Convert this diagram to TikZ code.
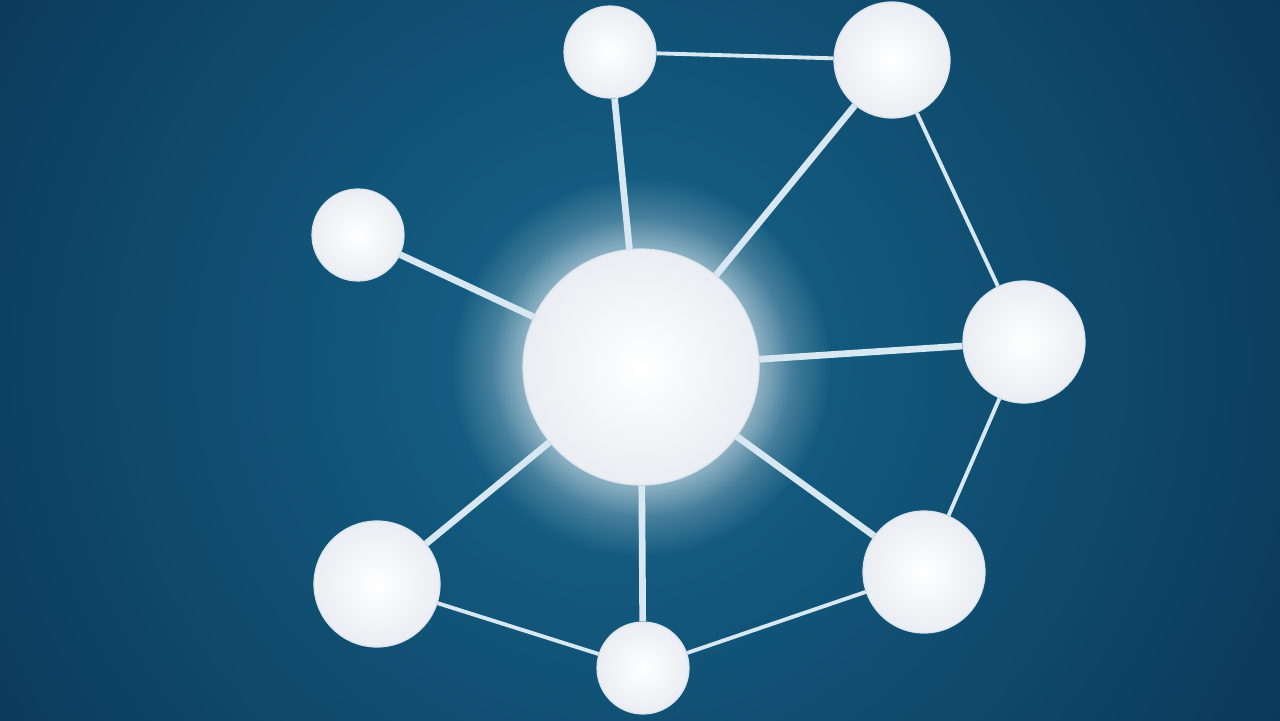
\documentclass[tikz,border=0pt]{standalone}
\usetikzlibrary{fadings}
\definecolor{bgin}{RGB}{22,102,140}
\definecolor{bgout}{RGB}{10,54,86}
\definecolor{ballrim}{RGB}{218,228,238}
\definecolor{ballout}{RGB}{234,237,242}
\definecolor{linkcol}{RGB}{216,232,242}
\tikzfading[name=glowfade, inner color=transparent!0, outer color=transparent!100]
\tikzset{
  ball/.style={circle, draw=ballrim, line width=0.7pt, inner color=white,
    outer color=ballout, minimum size=#1, inner sep=0pt},
  spoke/.style={draw=linkcol, line width=3.8pt},
  rim/.style={draw=linkcol, line width=2.2pt}
}
\begin{document}
\begin{tikzpicture}[x=0.02cm, y=-0.02cm]
      \useasboundingbox (0,0) rectangle (1280,720);
      \clip (0,0) rectangle (1280,720);
      \shade[inner color=bgin, outer color=bgout] (620,360) circle (800);
      % glow round the hub
      \fill[white, path fading=glowfade] (641,367) circle (190);
      \fill[white, path fading=glowfade] (641,367) circle (150);
      \draw
        (641,367) node[ball=4.72cm] (0){}
        (610,52) node[ball=1.84cm] (1){}
        (892,60) node[ball=2.32cm] (2){}
        (1024,342) node[ball=2.44cm] (3){}
        (924,572) node[ball=2.44cm] (4){}
        (643,668) node[ball=1.84cm] (5){}
        (377,584) node[ball=2.52cm] (6){}
        (358,235) node[ball=1.84cm] (7){};
      \begin{scope}[-]
        \draw[spoke] (0) to (1);
        \draw[spoke] (0) to (2);
        \draw[spoke] (0) to (3);
        \draw[spoke] (0) to (4);
        \draw[spoke] (0) to (5);
        \draw[spoke] (0) to (6);
        \draw[spoke] (0) to (7);
        \draw[rim] (1) to (2);
        \draw[rim] (2) to (3);
        \draw[rim] (3) to (4);
        \draw[rim] (4) to (5);
        \draw[rim] (5) to (6);
      \end{scope}
    \end{tikzpicture}
\end{document}
